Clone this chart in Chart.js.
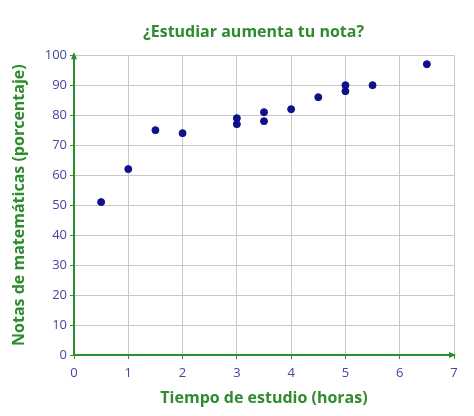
<!DOCTYPE html>
<html>
<head>
<meta charset="utf-8">
<script src="https://cdn.jsdelivr.net/npm/chart.js@4"></script>
<style>
  html, body { margin: 0; padding: 0; background: #fff; }
  #wrap { width: 474px; height: 416px; }
</style>
</head>
<body>
<div id="wrap"><canvas id="scatter"></canvas></div>
<script>
// Datos: horas de estudio vs. nota
const horas = [0.5, 1, 1.5, 2, 3, 3, 3.5, 3.5, 4, 4.5, 5, 5, 5.5, 6.5];
const notas = [51, 62, 75, 74, 79, 77, 81, 78, 82, 86, 90, 88, 90, 97];
const xTicks = [0, 1, 2, 3, 4, 5, 6, 7];
const yTicks = [0, 10, 20, 30, 40, 50, 60, 70, 80, 90, 100];

const verde = '#2e8b2e';
const azulTexto = '#45459a';
const fuente = "'Open Sans', 'Noto Sans', sans-serif";

// Flechas al final de los ejes
const flechas = {
    id: 'flechas',
    afterDraw(chart) {
        const { ctx, chartArea: a } = chart;
        ctx.save();
        ctx.fillStyle = verde;
        ctx.beginPath();
        ctx.moveTo(a.left, a.top - 3);
        ctx.lineTo(a.left - 3, a.top + 4);
        ctx.lineTo(a.left + 3, a.top + 4);
        ctx.fill();
        ctx.beginPath();
        ctx.moveTo(a.right + 2, a.bottom);
        ctx.lineTo(a.right - 5, a.bottom - 3);
        ctx.lineTo(a.right - 5, a.bottom + 3);
        ctx.fill();
        ctx.restore();
    }
};

const ctx = document.getElementById('scatter').getContext('2d');
new Chart(ctx, {
    type: 'scatter',
    data: {
        datasets: [{
            data: horas.map((h, i) => ({ x: h, y: notas[i] })),
            backgroundColor: '#10108a',
            borderColor: '#10108a',
            pointRadius: 3.5,
            pointHoverRadius: 3.5
        }]
    },
    options: {
        responsive: true,
        maintainAspectRatio: false,
        animation: false,
        layout: { padding: { right: 20, left: 0, top: 0, bottom: 0 } },
        plugins: {
            legend: { display: false },
            tooltip: { enabled: false },
            title: {
                display: true,
                fullSize: false,
                text: '¿Estudiar aumenta tu nota?     ',
                color: verde,
                font: { family: fuente, size: 16, weight: 'bold' },
                padding: { top: 23, bottom: 13 }
            }
        },
        scales: {
            x: {
                type: 'linear',
                min: 0,
                max: 7,
                afterBuildTicks: s => { s.ticks = xTicks.map(v => ({ value: v })); },
                afterFit: s => { s.height = 61; },
                grid: { color: '#c8c8c8', tickLength: 4, tickColor: verde },
                border: { color: verde, width: 2 },
                ticks: { color: azulTexto, font: { family: fuente, size: 13 }, padding: 6 },
                title: {
                    display: true,
                    text: 'Tiempo de estudio (horas)',
                    color: verde,
                    font: { family: fuente, size: 16, weight: 'bold', lineHeight: 1.7 },
                    padding: { top: 0, bottom: 4 }
                }
            },
            y: {
                min: 0,
                max: 100,
                afterBuildTicks: s => { s.ticks = yTicks.map(v => ({ value: v })); },
                afterFit: s => { s.width = 74; },
                grid: { color: '#c8c8c8', tickLength: 4, tickColor: verde },
                border: { color: verde, width: 2 },
                ticks: { color: azulTexto, font: { family: fuente, size: 13 }, padding: 3 },
                title: {
                    display: true,
                    text: 'Notas de matemáticas (porcentaje)',
                    color: verde,
                    font: { family: fuente, size: 16, weight: 'bold' },
                    padding: { top: 10, bottom: 0 }
                }
            }
        }
    },
    plugins: [flechas]
});
</script>
</body>
</html>
